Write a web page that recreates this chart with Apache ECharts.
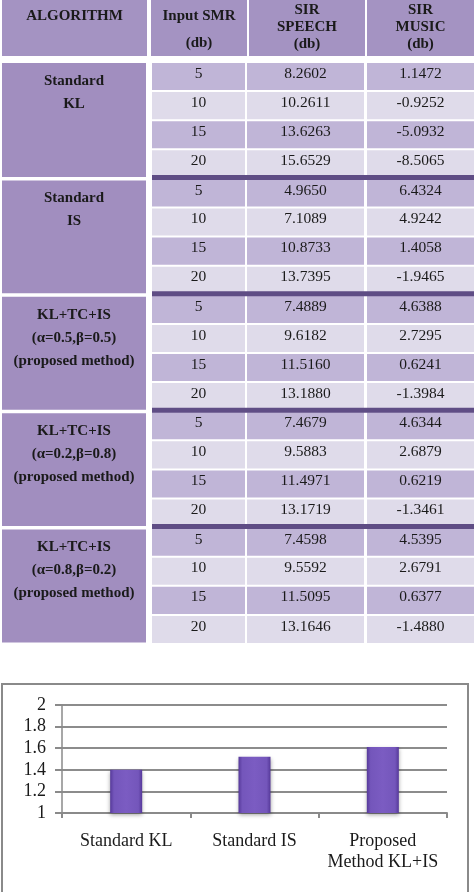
<!DOCTYPE html>
<html>
<head>
<meta charset="utf-8">
<script src="https://cdn.jsdelivr.net/npm/echarts@6/dist/echarts.min.js"></script>
<style>
html,body{margin:0;padding:0;background:#fff;}
#chart{width:474px;height:892px;}
</style>
</head>
<body>
<div id="chart"></div>
<script>
// ---------- DATA ----------
const headers = ['ALGORITHM', 'Input SMR\n(db)', 'SIR\nSPEECH\n(db)', 'SIR\nMUSIC\n(db)'];
const algorithms = [
  'Standard\nKL',
  'Standard\nIS',
  'KL+TC+IS\n(α=0.5,β=0.5)\n(proposed method)',
  'KL+TC+IS\n(α=0.2,β=0.8)\n(proposed method)',
  'KL+TC+IS\n(α=0.8,β=0.2)\n(proposed method)'
];
const inputSMR = [5, 10, 15, 20];
const sirSpeech = [
  [8.2602, 10.2611, 13.6263, 15.6529],
  [4.9650, 7.1089, 10.8733, 13.7395],
  [7.4889, 9.6182, 11.5160, 13.1880],
  [7.4679, 9.5883, 11.4971, 13.1719],
  [7.4598, 9.5592, 11.5095, 13.1646]
];
const sirMusic = [
  [1.1472, -0.9252, -5.0932, -8.5065],
  [6.4324, 4.9242, 1.4058, -1.9465],
  [4.6388, 2.7295, 0.6241, -1.3984],
  [4.6344, 2.6879, 0.6219, -1.3461],
  [4.5395, 2.6791, 0.6377, -1.4880]
];
const methods = ['Standard KL', 'Standard IS', 'Proposed\nMethod KL+IS'];
const scores = [1.40, 1.52, 1.61];
const scoreMin = 1, scoreMax = 2, scoreStep = 0.2;

// ---------- LAYOUT / STYLE ----------
const HEAD_COLS = [[2,147],[151,247],[249,365],[367,474]];
const BODY_COLS = [[2,146],[152,245],[247,364],[367,474]];
const HEAD_FIRST = [16, 16, 10, 10];
const HEAD_LH = [18, 27, 17, 17];
const C_HEAD = '#a493c2', C_ALG = '#a18ebf', C_DARK = '#c0b5d7', C_LIGHT = '#dfdbea', C_SEP = '#5f4d85';
const SERIF = '"Liberation Serif", "Times New Roman", serif';
const TXT = '#1a1a1a';

const G = algorithms.length, R = inputSMR.length;
const chart = echarts.init(document.getElementById('chart'));

// body cells built from the data arrays
const bodyCells = [];
for (let g = 0; g < G; g++) {
  bodyCells.push({kind: 'alg', g: g, text: algorithms[g]});
  for (let r = 0; r < R; r++) {
    bodyCells.push({kind: 'val', g: g, r: r, c: 1, text: String(inputSMR[r])});
    bodyCells.push({kind: 'val', g: g, r: r, c: 2, text: sirSpeech[g][r].toFixed(4)});
    bodyCells.push({kind: 'val', g: g, r: r, c: 3, text: sirMusic[g][r].toFixed(4)});
  }
}

const option = {
  animation: false,
  backgroundColor: '#fff',
  grid: [
    {left: 0, top: 0, width: 474, height: 56},
    {left: 0, top: 62, width: 474, height: 582},
    {left: 62, top: 705, width: 385, height: 108}
  ],
  xAxis: [
    {gridIndex: 0, type: 'value', min: 0, max: 474, show: false},
    {gridIndex: 1, type: 'value', min: 0, max: 474, show: false},
    {gridIndex: 2, type: 'category', data: methods, boundaryGap: true,
     axisLine: {lineStyle: {color: '#8a8a8a', width: 2}},
     axisTick: {show: true, length: 5, lineStyle: {color: '#8a8a8a', width: 2}},
     axisLabel: {interval: 0, fontFamily: SERIF, fontSize: 18, color: TXT, margin: 18, lineHeight: 21}}
  ],
  yAxis: [
    {gridIndex: 0, type: 'value', min: 0, max: 1, inverse: true, show: false},
    {gridIndex: 1, type: 'value', min: 0, max: G * R, inverse: true, show: false},
    {gridIndex: 2, type: 'value', min: scoreMin, max: scoreMax, interval: scoreStep,
     axisLine: {show: true, lineStyle: {color: '#8a8a8a', width: 1.5}},
     axisTick: {show: true, length: 7, lineStyle: {color: '#8a8a8a', width: 2}},
     splitLine: {show: true, lineStyle: {color: '#8c8c8c', width: 2}},
     axisLabel: {fontFamily: SERIF, fontSize: 18, color: TXT, margin: 16,
       formatter: v => String(Math.round(v * 10) / 10)}}
  ],
  graphic: [
    {type: 'rect', shape: {x: 2, y: 684, width: 466, height: 230},
     style: {fill: 'none', stroke: '#8a8a8a', lineWidth: 2}, z: 0}
  ],
  series: [
    {
      type: 'custom', xAxisIndex: 0, yAxisIndex: 0,
      data: headers.map((h, i) => [i, 0]),
      renderItem: function (params, api) {
        const i = params.dataIndex;
        const p0 = api.coord([HEAD_COLS[i][0], 0]);
        const p1 = api.coord([HEAD_COLS[i][1], 1]);
        return {
          type: 'group', children: [
            {type: 'rect', shape: {x: p0[0], y: p0[1], width: p1[0] - p0[0], height: p1[1] - p0[1]}, style: {fill: C_HEAD}},
            {type: 'text', style: {text: headers[i], x: (p0[0] + p1[0]) / 2, y: p0[1] + HEAD_FIRST[i] - HEAD_LH[i] / 2,
              align: 'center', verticalAlign: 'top', lineHeight: HEAD_LH[i],
              fontFamily: SERIF, fontSize: 15, fontWeight: 'bold', fill: TXT}}
          ]
        };
      }
    },
    {
      type: 'custom', xAxisIndex: 1, yAxisIndex: 1,
      data: bodyCells.map((c, i) => [i, 0]),
      renderItem: function (params, api) {
        const cell = bodyCells[params.dataIndex];
        if (cell.kind === 'alg') {
          const p0 = api.coord([BODY_COLS[0][0], cell.g * R]);
          const p1 = api.coord([BODY_COLS[0][1], cell.g * R + R]);
          const y0 = p0[1] + (cell.g === 0 ? 1 : 2), y1 = p1[1] - 1.5;
          return {
            type: 'group', children: [
              {type: 'rect', shape: {x: p0[0], y: y0, width: p1[0] - p0[0], height: y1 - y0}, style: {fill: C_ALG}},
              {type: 'text', style: {text: cell.text, x: (p0[0] + p1[0]) / 2, y: y0 + 18 - 11.5,
                align: 'center', verticalAlign: 'top', lineHeight: 23,
                fontFamily: SERIF, fontSize: 15, fontWeight: 'bold', fill: TXT}}
            ]
          };
        }
        const idx = cell.g * R + cell.r;
        const p0 = api.coord([BODY_COLS[cell.c][0], idx]);
        const p1 = api.coord([BODY_COLS[cell.c][1], idx + 1]);
        const y0 = p0[1] + 1, y1 = p1[1] - 1;
        const topVis = (cell.r === 0 && cell.g > 0) ? p0[1] + 2 : y0;
        return {
          type: 'group', children: [
            {type: 'rect', shape: {x: p0[0], y: y0, width: p1[0] - p0[0], height: y1 - y0},
             style: {fill: cell.r % 2 === 0 ? C_DARK : C_LIGHT}},
            {type: 'text', style: {text: cell.text, x: (p0[0] + p1[0]) / 2, y: (topVis + y1) / 2 - 3,
              align: 'center', verticalAlign: 'middle',
              fontFamily: SERIF, fontSize: 15.5, fill: TXT}}
          ]
        };
      }
    },
    {
      type: 'custom', xAxisIndex: 1, yAxisIndex: 1, z: 5,
      data: algorithms.slice(1).map((a, i) => [i + 1, 0]),
      renderItem: function (params, api) {
        const g = params.dataIndex + 1;
        const p0 = api.coord([BODY_COLS[1][0], g * R]);
        const p1 = api.coord([BODY_COLS[3][1], g * R]);
        return {type: 'rect', shape: {x: p0[0], y: p0[1] - 3.5, width: p1[0] - p0[0], height: 5}, style: {fill: C_SEP}};
      }
    },
    {
      type: 'bar', xAxisIndex: 2, yAxisIndex: 2,
      data: scores, barWidth: 32,
      itemStyle: {
        color: new echarts.graphic.LinearGradient(0, 0, 1, 0, [
          {offset: 0, color: '#56399a'},
          {offset: 0.12, color: '#7456bb'},
          {offset: 0.5, color: '#7b5cc2'},
          {offset: 0.88, color: '#7456bb'},
          {offset: 1, color: '#56399a'}
        ]),
        shadowColor: 'rgba(0,0,0,0.35)', shadowBlur: 4, shadowOffsetY: 2
      }
    }
  ]
};
chart.setOption(option);
</script>
</body>
</html>
